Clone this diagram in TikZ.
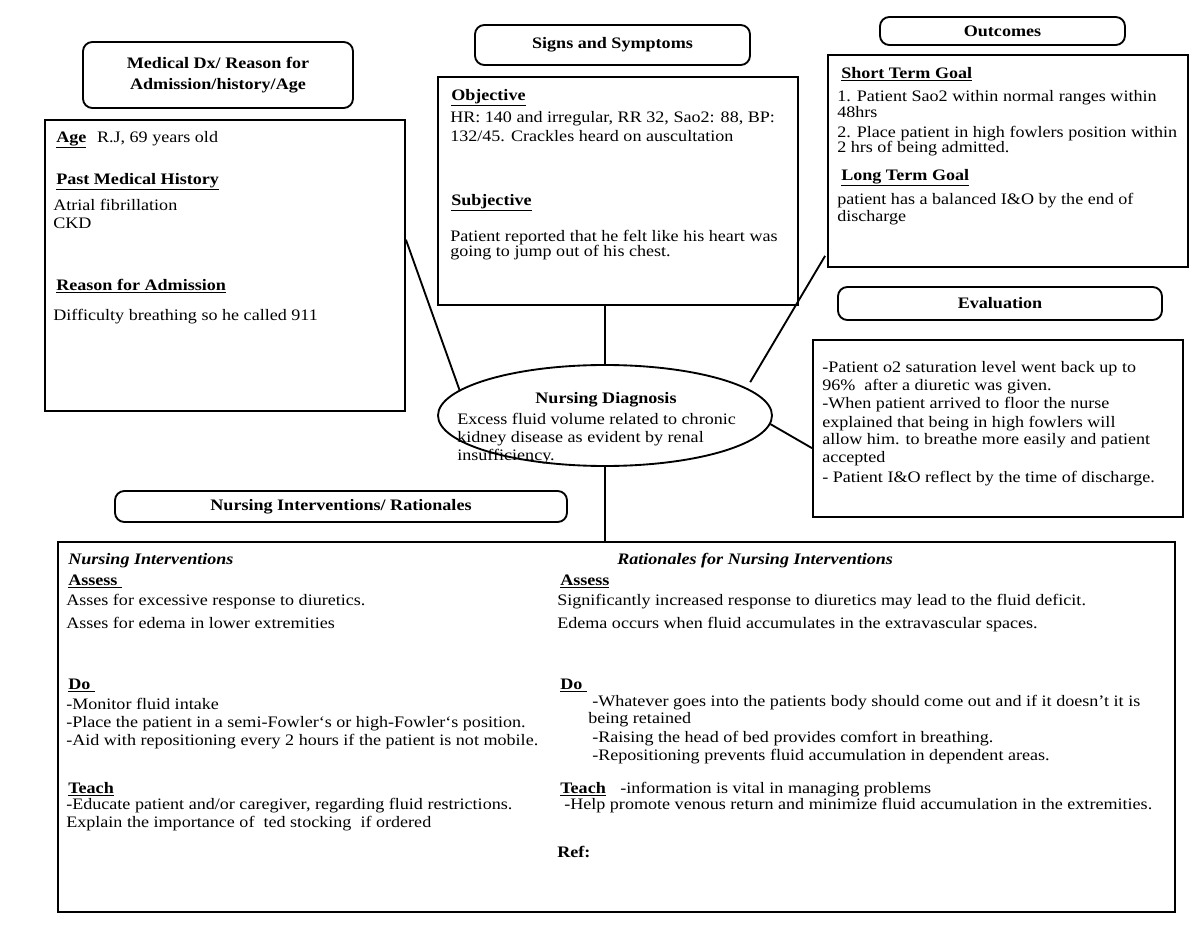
\documentclass[12pt,tikz,border=0pt]{standalone}
\usepackage{fontspec}
\setmainfont{Liberation Serif}[FakeStretch=1.13]
\usetikzlibrary{shapes.geometric,calc}
\tikzset{
  box/.style={draw, line width=1.4pt, inner sep=0pt},
  tbox/.style={draw, line width=1.4pt, rounded corners=7pt, inner sep=0pt, align=center, font=\bfseries},
  tx/.style={anchor=west, inner sep=0pt, text height=8pt, text depth=0pt},
  hd/.style={tx, font=\bfseries},
  hi/.style={tx, font=\bfseries\itshape},
  conn/.style={line width=1.4pt},
}
\begin{document}
\begin{tikzpicture}[x=0.75pt,y=-0.75pt]
\useasboundingbox (0,0) rectangle (1200,927);
\fill[white] (0,0) rectangle (1200,927);

% ---- boxes ----
\node[tbox, minimum width=202.5pt, minimum height=49.5pt] (mdx) at (218,75) {Medical Dx/ Reason for\\[1pt]Admission/history/Age};
\node[box, minimum width=270pt, minimum height=218.25pt] (leftbox) at (225,265.5) {};
\node[tbox, minimum width=206.25pt, minimum height=30pt] (sst) at (612.5,45) {Signs and Symptoms};
\node[box, minimum width=270pt, minimum height=171pt] (sbox) at (618,191) {};
\node[tbox, minimum width=183.75pt, minimum height=21pt] (outt) at (1002.5,31) {Outcomes};
\node[box, minimum width=270pt, minimum height=159pt] (obox) at (1008,161) {};
\node[tbox, minimum width=243pt, minimum height=24.75pt] (evt) at (1000,303.5) {Evaluation};
\node[box, minimum width=277.5pt, minimum height=132.75pt] (ebox) at (998,428.5) {};
\node[draw, ellipse, line width=1.4pt, inner sep=0pt, minimum width=250.5pt, minimum height=75.75pt] (ell) at (605,415.5) {};
\node[tbox, minimum width=339pt, minimum height=23.25pt] (nit) at (341,506.5) {Nursing Interventions/ Rationales};
\node[box, minimum width=837.75pt, minimum height=277.5pt] (bbox) at (616.5,727) {};

% ---- connectors ----
\coordinate (lbpt) at ($(leftbox.north east)!0.412!(leftbox.south east)$);
\coordinate (obpt) at ($(obox.south west)+(-2,-12)$);
\coordinate (ebpt) at ($(ebox.north west)!0.61!(ebox.south west)$);
\draw[conn] (lbpt) -- (ell.170);
\draw[conn, shorten >=5pt] (obpt) -- (ell.11);
\draw[conn] (ell.-3) -- (ebpt);
\draw[conn] (sbox.south -| ell.north) -- (ell.north);
\draw[conn] (ell.south) -- (ell.south |- bbox.north);

% ---- left box text ----
\node[tx] (age) at (56,137) {\underline{\textbf{Age}}\hspace{8pt}R.J, 69 years old};
\node[hd] (pmh) at (56,179) {\underline{Past Medical History}};
\node[tx] (af) at (53,205) {Atrial fibrillation};
\node[tx] (ckd) at (53,223) {CKD};
\node[hd] (rfa) at (56,285) {\underline{Reason for Admission}};
\node[tx] (dif) at (53,315) {Difficulty breathing so he called 911};

% ---- signs box text ----
\node[hd] (obj) at (451,95) {\underline{Objective}};
\node[tx] (hr1) at (450,117) {HR: 140 and irregular, RR 32, Sao2: 88, BP:};
\node[tx] (hr2) at (450,136) {132/45. Crackles heard on auscultation};
\node[hd] (subj) at (451,200) {\underline{Subjective}};
\node[tx] (pr1) at (450,236) {Patient reported that he felt like his heart was};
\node[tx] (pr2) at (450,251) {going to jump out of his chest.};

% ---- outcomes text ----
\node[hd] (stg) at (841,73) {\underline{Short Term Goal}};
\node[tx] (o1) at (837,96) {1. Patient Sao2 within normal ranges within};
\node[tx] (o2) at (837,112) {48hrs};
\node[tx] (o3) at (837,132) {2. Place patient in high fowlers position within};
\node[tx] (o4) at (837,147) {2 hrs of being admitted.};
\node[hd] (ltg) at (841,175) {\underline{Long Term Goal}};
\node[tx] (o5) at (837,199) {patient has a balanced I\&O by the end of};
\node[tx] (o6) at (837,216) {discharge};

% ---- evaluation text ----
\node[tx] (e1) at (822,367) {-Patient o2 saturation level went back up to};
\node[tx] (e2) at (822,385) {96\%\ \ after a diuretic was given.};
\node[tx] (e3) at (822,403) {-When patient arrived to floor the nurse};
\node[tx] (e4) at (822,422) {explained that being in high fowlers will};
\node[tx] (e5) at (822,439) {allow him. to breathe more easily and patient};
\node[tx] (e6) at (822,457) {accepted};
\node[tx] (e7) at (822,477) {- Patient I\&O reflect by the time of discharge.};

% ---- ellipse text ----
\node[hd, anchor=center] (nd) at (606,398) {Nursing Diagnosis};
\node[tx] (ex1) at (457,419) {Excess fluid volume related to chronic};
\node[tx] (ex2) at (457,437) {kidney disease as evident by renal};
\node[tx] (ex3) at (457,455) {insufficiency.};

% ---- bottom left ----
\node[hi] (nih) at (68,559) {Nursing Interventions};
\node[hd] (as1) at (68,580) {\underline{Assess\ }};
\node[tx] (a1) at (66,600) {Asses for excessive response to diuretics.};
\node[tx] (a2) at (66,623) {Asses for edema in lower extremities};
\node[hd] (do1) at (68,684) {\underline{Do\ }};
\node[tx] (d1) at (66,704) {-Monitor fluid intake};
\node[tx] (d2) at (66,722) {-Place the patient in a semi-Fowler`s or high-Fowler`s position.};
\node[tx] (d3) at (66,740) {-Aid with repositioning every 2 hours if the patient is not mobile.};
\node[hd] (te1) at (68,788) {\underline{Teach}};
\node[tx] (t1) at (66,804) {-Educate patient and/or caregiver, regarding fluid restrictions.};
\node[tx] (t2) at (66,822) {Explain the importance of\ \ ted stocking\ \ if ordered};

% ---- bottom right ----
\node[hi] (rh) at (617,559) {Rationales for Nursing Interventions};
\node[hd] (as2) at (560,580) {\underline{Assess}};
\node[tx] (r1) at (557,600) {Significantly increased response to diuretics may lead to the fluid deficit.};
\node[tx] (r2) at (557,623) {Edema occurs when fluid accumulates in the extravascular spaces.};
\node[hd] (do2) at (560,684) {\underline{Do\ }};
\node[tx] (r3) at (592,701) {-Whatever goes into the patients body should come out and if it doesn't it is};
\node[tx] (r4) at (588,718) {being retained};
\node[tx] (r5) at (592,737) {-Raising the head of bed provides comfort in breathing.};
\node[tx] (r6) at (592,755) {-Repositioning prevents fluid accumulation in dependent areas.};
\node[hd] (te2) at (560,788) {\underline{Teach}};
\node[tx] (r7) at (620,788) {-information is vital in managing problems};
\node[tx] (r8) at (564,804) {-Help promote venous return and minimize fluid accumulation in the extremities.};
\node[hd] (ref) at (557,852) {Ref:};
\end{tikzpicture}
\end{document}
